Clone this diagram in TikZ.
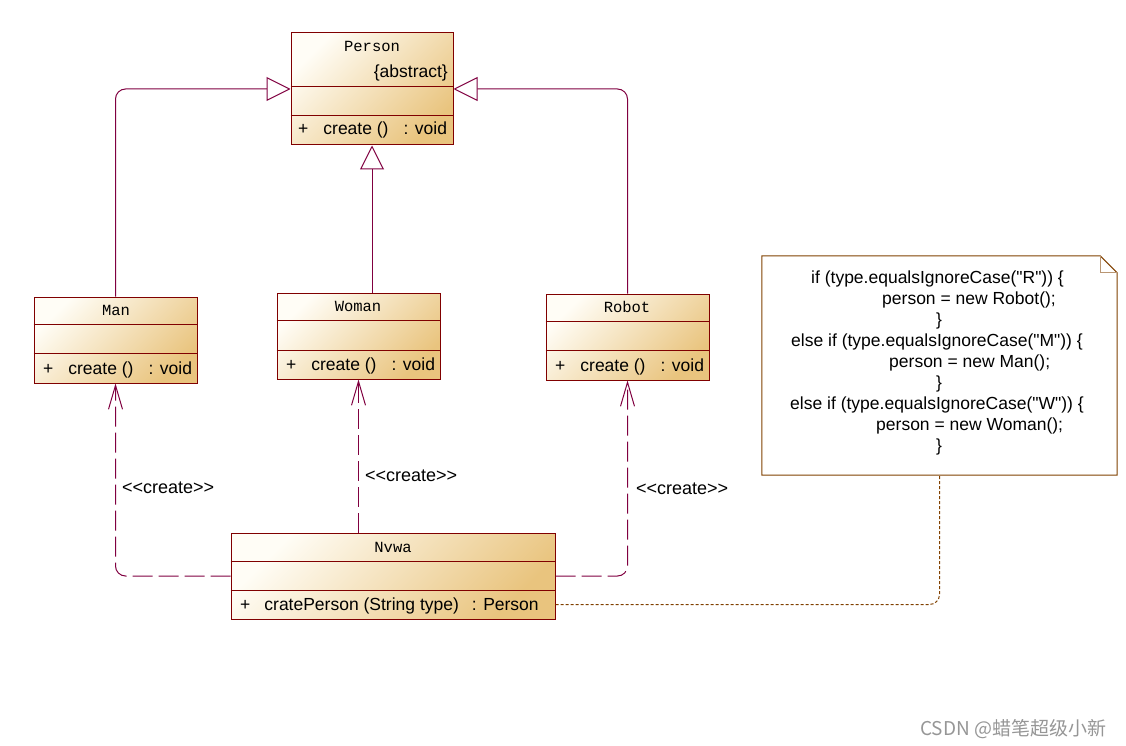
\documentclass[tikz,border=0pt]{standalone}
\usepackage{fontspec}
\usetikzlibrary{arrows.meta,calc}
\newfontfamily\umlsans{Liberation Sans}
\newfontfamily\umlmono{Liberation Mono}
\newfontfamily\cjkfont{Noto Sans CJK SC}
\definecolor{boxred}{RGB}{128,0,0}
\definecolor{linkred}{RGB}{128,0,64}
\definecolor{notebrown}{RGB}{128,64,0}
\definecolor{fadetop}{RGB}{255,253,246}
\definecolor{fadebot}{RGB}{233,196,126}
\definecolor{markgray}{RGB}{150,150,150}
\begin{document}
\begin{tikzpicture}[x=1pt,y=-1pt]
\tikzstyle{classbox} = [rectangle, draw=boxred, line width=1pt, top color=fadetop,
bottom color=fadebot, shading angle=45, inner sep=0pt]
\tikzstyle{divider} = [draw=boxred, line width=1pt]
\tikzstyle{cname} = [font=\umlmono\fontsize{15.5}{16}\selectfont, inner sep=0pt]
\tikzstyle{optext} = [font=\umlsans\fontsize{17.5}{21}\selectfont, inner sep=0pt, anchor=base west]
\tikzstyle{inherit} = [draw=linkred, line width=1pt, rounded corners=10pt,
-{Triangle[open, length=24pt, width=24pt]}]
\tikzstyle{depend} = [draw=linkred, line width=1pt, rounded corners=10pt,
dash pattern=on 20pt off 6pt, -{Straight Barb[length=24pt, width=14pt]}]
\tikzstyle{createlbl} = [font=\umlsans\fontsize{18}{21}\selectfont, inner sep=2pt]
\tikzstyle{notebox} = [rectangle, inner sep=0pt, minimum width=355pt, minimum height=219pt]
\tikzstyle{noteline} = [draw=notebrown, line width=1pt, rounded corners=10pt, dash pattern=on 3pt off 2pt]
\useasboundingbox (0,0) rectangle (1126,746);

% classes
\node [classbox, minimum width=162pt, minimum height=112pt] (person) at (372,89) {};
\node [classbox, minimum width=163pt, minimum height=86pt] (man) at (115.5,340) {};
\node [classbox, minimum width=163pt, minimum height=86pt] (woman) at (358.5,336) {};
\node [classbox, minimum width=163pt, minimum height=86pt] (robot) at (627.5,337) {};
\node [classbox, minimum width=324pt, minimum height=86pt] (nvwa) at (393,576) {};
\foreach \c/\a/\b in {person/54/83, man/28/57, woman/28/58, robot/28/57, nvwa/29/58}
{
\draw [divider] ($(\c.north west)+(0,\a)$) -- ($(\c.north east)+(0,\a)$);
\draw [divider] ($(\c.north west)+(0,\b)$) -- ($(\c.north east)+(0,\b)$);
}

\node [cname] (personname) at (372,46) {Person};
\node [optext, anchor=base east] (personabs) at (448,78) {\{abstract\}};
\node [optext] (personop) at (298,135) {+\hspace{15pt}create ()\hspace{15pt}: void};
\node [cname] (manname) at (116,310) {Man};
\node [optext] (manop) at (43,374) {+\hspace{15pt}create ()\hspace{15pt}: void};
\node [cname] (womanname) at (358,306) {Woman};
\node [optext] (womanop) at (286,370) {+\hspace{15pt}create ()\hspace{15pt}: void};
\node [cname] (robotname) at (627,307) {Robot};
\node [optext] (robotop) at (555,371) {+\hspace{15pt}create ()\hspace{15pt}: void};
\node [cname] (nvwaname) at (393,547) {Nvwa};
\node [optext] (nvwaop) at (240,610) {+\hspace{14pt}cratePerson (String type)\hspace{13pt}: Person};

% note
\node [notebox] (note) at (939.5,365.5) {};
\draw [notebrown, line width=1pt] (note.south west) -- (note.north west)
-- ($(note.north east)+(-17,0)$) -- ($(note.north east)+(0,17)$) -- (note.south east) -- cycle;
\draw [notebrown!55, line width=1pt] ($(note.north east)+(-17,0)$) |- ($(note.north east)+(0,17)$);
\foreach \n/\x/\y/\t in {1/811/283/{if (type.equalsIgnoreCase("R")) \{},
2/882/304/{person = new Robot();}, 3/936/325/{\}},
4/791/346/{else if (type.equalsIgnoreCase("M")) \{},
5/889/367/{person = new Man();}, 6/936/388/{\}},
7/790/409/{else if (type.equalsIgnoreCase("W")) \{},
8/876/430/{person = new Woman();}, 9/936/451/{\}}}
\node [optext] (code\n) at (\x,\y) {\t};

% connectors
\draw [inherit] (man.north) |- (person.west);
\draw [inherit] (robot.north) |- (person.east);
\draw [inherit] (person.south |- woman.north) -- (person.south);
\draw [depend] (nvwa.west) -| node [createlbl, pos=0.73, right=4pt] (manlbl) {<<create>>} (man.south);
\draw [depend] (woman.south |- nvwa.north) -- node [createlbl, pos=0.37, right=4pt] (womanlbl) {<<create>>} (woman.south);
\draw [depend] (nvwa.east) -| node [createlbl, pos=0.724, right=6pt] (robotlbl) {<<create>>} (robot.south);
\coordinate (nvwaout) at ($(nvwa.south east)+(0,-15)$);
\draw [noteline] (nvwaout) -| (note.south);

\node [anchor=base west, inner sep=0pt, text=markgray, font=\cjkfont\fontsize{19}{22}\selectfont] (mark) at (920,735) {CSDN @蜡笔超级小新};
\end{tikzpicture}
\end{document}
